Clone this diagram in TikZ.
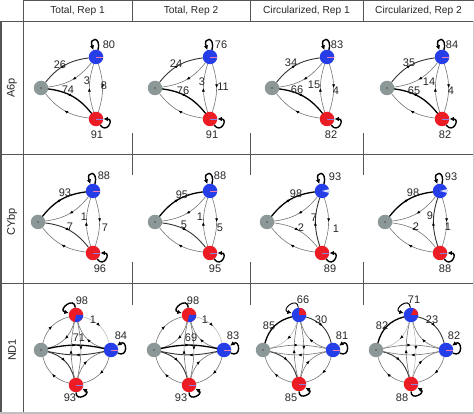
\documentclass[tikz,border=0pt]{standalone}
\usepackage{fontspec}
\setmainfont{Liberation Sans}
\usetikzlibrary{arrows.meta,decorations.markings}

\definecolor{nodegray}{RGB}{140,152,152}
\definecolor{nodeblue}{RGB}{38,62,232}
\definecolor{nodered}{RGB}{236,28,36}
\definecolor{framegray}{RGB}{85,85,85}
\definecolor{tickpink}{RGB}{240,120,180}
\definecolor{tickviolet}{RGB}{140,130,230}

\begin{document}
\begin{tikzpicture}[x=1pt,y=1pt]
\tikzset{
  cellline/.style={draw=framegray,line width=0.8pt},
  headtext/.style={font=\fontsize{10.2}{12}\selectfont,text=black!85,inner sep=0pt},
  rowtext/.style={headtext,font=\fontsize{11}{12}\selectfont,rotate=90},
  graynode/.style={circle,fill=nodegray,minimum size=14.5pt,inner sep=0pt},
  bluenode/.style={circle,fill=nodeblue,minimum size=14.5pt,inner sep=0pt},
  rednode/.style={circle,fill=nodered,minimum size=14.5pt,inner sep=0pt},
  edgebase/.style={line cap=round,postaction={decorate},
    decoration={markings,mark=at position 0.5 with {\arrow{Latex[length=3.6pt,width=3pt,black]}}}},
  wfaint/.style={edgebase,draw=black!30,line width=0.5pt},
  wlight/.style={edgebase,draw=black!55,line width=0.6pt},
  wmed/.style={edgebase,draw=black!80,line width=0.9pt},
  wheavy/.style={edgebase,draw=black,line width=1.3pt},
  selfloop/.style={draw=black,line width=1.4pt,-{Latex[length=4.5pt,width=4.5pt]},min distance=12pt},
  toploop/.style={selfloop,out=75,in=110,min distance=14pt},
  lowloop/.style={selfloop,out=-55,in=0,min distance=11pt},
  elabel/.style={font=\fontsize{11}{12}\selectfont,text=black!85,inner sep=0pt},
  pinktick/.style={draw=tickpink,line width=0.8pt},
  violettick/.style={draw=tickviolet,line width=0.8pt}
}
\useasboundingbox (0,0) rectangle (474,414);

% table frame
\draw[cellline] (23,413.5) -- (474,413.5);
\draw[cellline] (0,393) -- (474,393);
\draw[cellline] (0,260) -- (474,260);
\draw[cellline] (0,131) -- (474,131);
\draw[cellline] (23,0) -- (23,414);
\draw[draw=framegray,line width=2pt] (1,0) -- (1,393);
\draw[draw=black!25,line width=1.5pt] (0,1) -- (474,1);
\draw[draw=black!20,line width=1pt] (473,0) -- (473,393);
\foreach \xx in {132,250,363} {
  \draw[cellline] (\xx,393) -- (\xx,414);
  \draw[cellline] (\xx,260) -- (\xx,281);
  \draw[cellline] (\xx,239) -- (\xx,260);
  \draw[cellline] (\xx,131) -- (\xx,152);
  \draw[cellline] (\xx,109) -- (\xx,131);
}

\node[headtext] (hd1) at (77.5,403) {Total, Rep 1};
\node[headtext] (hd2) at (191,403) {Total, Rep 2};
\node[headtext] (hd3) at (306.5,403) {Circularized, Rep 1};
\node[headtext] (hd4) at (418.5,403) {Circularized, Rep 2};
\node[rowtext] (rl1) at (12,326) {A6p};
\node[rowtext] (rl2) at (12,192) {CYbp};
\node[rowtext] (rl3) at (12,64) {ND1};

% A6p, Total, Rep 1
\begin{scope}[shift={(41,326)}]
\node[graynode] (g11) at (0,0) {};
\node[bluenode] (b11) at (55,31) {};
\node[rednode] (r11) at (55,-31) {};
\draw[wmed] (g11) to[bend left=22] (b11);
\draw[wlight] (b11) to[bend left=22] (g11);
\draw[wheavy] (g11) to[bend left=22] (r11);
\draw[wlight] (r11) to[bend left=22] (g11);
\draw[wlight] (b11) to[bend left=18] (r11);
\draw[wlight] (r11) to[bend left=18] (b11);
\draw[toploop] (b11) to (b11);
\draw[lowloop] (r11) to (r11);
\fill[black!70] (g11.center) circle[radius=0.9];
\draw[pinktick] (b11.center) -- (b11.east);
\draw[violettick] (r11.center) -- (r11.east);
\node[elabel] (l11a) at (68,43) {80};
\node[elabel] (l11b) at (19,23) {26};
\node[elabel] (l11c) at (46,7) {3};
\node[elabel] (l11d) at (63,2) {8};
\node[elabel] (l11e) at (27,-2) {74};
\node[elabel] (l11f) at (56,-47) {91};
\end{scope}

% A6p, Total, Rep 2
\begin{scope}[shift={(155,326)}]
\node[graynode] (g12) at (0,0) {};
\node[bluenode] (b12) at (55,31) {};
\node[rednode] (r12) at (55,-31) {};
\draw[wmed] (g12) to[bend left=22] (b12);
\draw[wlight] (b12) to[bend left=22] (g12);
\draw[wheavy] (g12) to[bend left=22] (r12);
\draw[wlight] (r12) to[bend left=22] (g12);
\draw[wlight] (b12) to[bend left=18] (r12);
\draw[wlight] (r12) to[bend left=18] (b12);
\draw[toploop] (b12) to (b12);
\draw[lowloop] (r12) to (r12);
\fill[black!70] (g12.center) circle[radius=0.9];
\draw[pinktick] (b12.center) -- (b12.east);
\draw[violettick] (r12.center) -- (r12.east);
\node[elabel] (l12a) at (66,43) {76};
\node[elabel] (l12b) at (21,24) {24};
\node[elabel] (l12c) at (47,6) {3};
\node[elabel] (l12d) at (68,1) {11};
\node[elabel] (l12e) at (28,-3) {76};
\node[elabel] (l12f) at (57,-47) {91};
\end{scope}

% A6p, Circularized, Rep 1
\begin{scope}[shift={(272,326)}]
\node[graynode] (g13) at (0,0) {};
\node[bluenode] (b13) at (55,31) {};
\node[rednode] (r13) at (55,-31) {};
\draw[wmed] (g13) to[bend left=22] (b13);
\draw[wlight] (b13) to[bend left=22] (g13);
\draw[wheavy] (g13) to[bend left=22] (r13);
\draw[wlight] (r13) to[bend left=22] (g13);
\draw[wlight] (b13) to[bend left=18] (r13);
\draw[wlight] (r13) to[bend left=18] (b13);
\draw[toploop] (b13) to (b13);
\draw[lowloop] (r13) to (r13);
\fill[black!70] (g13.center) circle[radius=0.9];
\draw[pinktick] (b13.center) -- (b13.east);
\draw[violettick] (r13.center) -- (r13.east);
\node[elabel] (l13a) at (65,43) {83};
\node[elabel] (l13b) at (19,25) {34};
\node[elabel] (l13c) at (42,3) {15};
\node[elabel] (l13d) at (64,-3) {4};
\node[elabel] (l13e) at (25,-2) {66};
\node[elabel] (l13f) at (59,-47) {82};
\end{scope}

% A6p, Circularized, Rep 2
\begin{scope}[shift={(387,326)}]
\node[graynode] (g14) at (0,0) {};
\node[bluenode] (b14) at (55,31) {};
\node[rednode] (r14) at (55,-31) {};
\draw[wmed] (g14) to[bend left=22] (b14);
\draw[wlight] (b14) to[bend left=22] (g14);
\draw[wheavy] (g14) to[bend left=22] (r14);
\draw[wlight] (r14) to[bend left=22] (g14);
\draw[wlight] (b14) to[bend left=18] (r14);
\draw[wlight] (r14) to[bend left=18] (b14);
\draw[toploop] (b14) to (b14);
\draw[lowloop] (r14) to (r14);
\fill[black!70] (g14.center) circle[radius=0.9];
\draw[pinktick] (b14.center) -- (b14.east);
\draw[violettick] (r14.center) -- (r14.east);
\node[elabel] (l14a) at (65,43) {84};
\node[elabel] (l14b) at (22,25) {35};
\node[elabel] (l14c) at (42,6) {14};
\node[elabel] (l14d) at (64,-3) {4};
\node[elabel] (l14e) at (27,-3) {65};
\node[elabel] (l14f) at (58,-47) {82};
\end{scope}

% CYbp, Total, Rep 1
\begin{scope}[shift={(38,192)}]
\node[graynode] (g21) at (0,0) {};
\node[bluenode] (b21) at (55,31) {};
\node[rednode] (r21) at (55,-31) {};
\draw[wheavy] (g21) to[bend left=22] (b21);
\draw[wlight] (b21) to[bend left=22] (g21);
\draw[wmed] (g21) to[bend left=22] (r21);
\draw[wlight] (r21) to[bend left=22] (g21);
\draw[wlight] (b21) to[bend left=18] (r21);
\draw[wlight] (r21) to[bend left=18] (b21);
\draw[toploop] (b21) to (b21);
\draw[lowloop] (r21) to (r21);
\fill[black!70] (g21.center) circle[radius=0.9];
\draw[pinktick] (b21.center) -- (b21.east);
\draw[violettick] (r21.center) -- (r21.east);
\node[elabel] (l21a) at (66,46) {88};
\node[elabel] (l21b) at (27,29) {93};
\node[elabel] (l21c) at (46,5) {1};
\node[elabel] (l21d) at (32,-5) {7};
\node[elabel] (l21e) at (67,-6) {7};
\node[elabel] (l21f) at (62,-47) {96};
\end{scope}

% CYbp, Total, Rep 2
\begin{scope}[shift={(155,192)}]
\node[graynode] (g22) at (0,0) {};
\node[bluenode] (b22) at (55,31) {};
\node[rednode] (r22) at (55,-31) {};
\draw[wheavy] (g22) to[bend left=22] (b22);
\draw[wlight] (b22) to[bend left=22] (g22);
\draw[wmed] (g22) to[bend left=22] (r22);
\draw[wlight] (r22) to[bend left=22] (g22);
\draw[wlight] (b22) to[bend left=18] (r22);
\draw[wlight] (r22) to[bend left=18] (b22);
\draw[toploop] (b22) to (b22);
\draw[lowloop] (r22) to (r22);
\fill[black!70] (g22.center) circle[radius=0.9];
\draw[pinktick] (b22.center) -- (b22.east);
\draw[violettick] (r22.center) -- (r22.east);
\node[elabel] (l22a) at (65,46) {88};
\node[elabel] (l22b) at (27,27) {95};
\node[elabel] (l22c) at (45,5) {1};
\node[elabel] (l22d) at (29,-3) {5};
\node[elabel] (l22e) at (65,-6) {5};
\node[elabel] (l22f) at (60,-47) {95};
\end{scope}

% CYbp, Circularized, Rep 1
\begin{scope}[shift={(267,192)}]
\node[graynode] (g23) at (0,0) {};
\node[bluenode] (b23) at (55,31) {};
\node[rednode] (r23) at (55,-31) {};
\draw[wheavy] (g23) to[bend left=22] (b23);
\draw[wlight] (b23) to[bend left=22] (g23);
\draw[wlight] (g23) to[bend left=22] (r23);
\draw[wlight] (r23) to[bend left=22] (g23);
\draw[wlight] (b23) to[bend left=18] (r23);
\draw[wmed] (r23) to[bend left=18] (b23);
\draw[toploop] (b23) to (b23);
\draw[lowloop] (r23) to (r23);
\fill[black!70] (g23.center) circle[radius=0.9];
\fill[white!85!nodeblue] (b23.center) -- ++(-15:7.25) arc[start angle=-15,end angle=15,radius=7.25] -- cycle;
\draw[violettick] (r23.center) -- (r23.east);
\node[elabel] (l23a) at (68,45) {93};
\node[elabel] (l23b) at (29,28) {98};
\node[elabel] (l23c) at (47,4) {7};
\node[elabel] (l23d) at (34,-6) {2};
\node[elabel] (l23e) at (69,-7) {1};
\node[elabel] (l23f) at (63,-47) {89};
\end{scope}

% CYbp, Circularized, Rep 2
\begin{scope}[shift={(385,192)}]
\node[graynode] (g24) at (0,0) {};
\node[bluenode] (b24) at (55,31) {};
\node[rednode] (r24) at (55,-31) {};
\draw[wheavy] (g24) to[bend left=22] (b24);
\draw[wlight] (b24) to[bend left=22] (g24);
\draw[wlight] (g24) to[bend left=22] (r24);
\draw[wlight] (r24) to[bend left=22] (g24);
\draw[wlight] (b24) to[bend left=18] (r24);
\draw[wmed] (r24) to[bend left=18] (b24);
\draw[toploop] (b24) to (b24);
\draw[lowloop] (r24) to (r24);
\fill[black!70] (g24.center) circle[radius=0.9];
\fill[white!85!nodeblue] (b24.center) -- ++(-15:7.25) arc[start angle=-15,end angle=15,radius=7.25] -- cycle;
\draw[violettick] (r24.center) -- (r24.east);
\node[elabel] (l24a) at (66,45) {93};
\node[elabel] (l24b) at (28,29) {98};
\node[elabel] (l24c) at (45,6) {9};
\node[elabel] (l24d) at (31,-5) {2};
\node[elabel] (l24e) at (63,-5) {1};
\node[elabel] (l24f) at (60,-47) {88};
\end{scope}

% ND1, Total, Rep 1
\begin{scope}[shift={(41,64)}]
\node[graynode] (g31) at (0,0) {};
\node[rednode] (t31) at (35,35) {};
\node[bluenode] (e31) at (70,0) {};
\node[rednode] (d31) at (35,-35) {};
\draw[wlight] (g31) to[bend left=30] (t31);
\draw[wlight] (t31) to[bend left=30] (g31);
\draw[wfaint] (t31) to[bend left=30] (e31);
\draw[wlight] (e31) to[bend left=30] (t31);
\draw[wlight] (e31) to[bend left=30] (d31);
\draw[wlight] (d31) to[bend left=30] (e31);
\draw[wmed] (g31) to[bend left=30] (d31);
\draw[wlight] (d31) to[bend left=30] (g31);
\draw[wheavy] (g31) to[bend left=12] (e31);
\draw[wmed] (e31) to[bend left=12] (g31);
\draw[wlight] (t31) to[bend left=12] (d31);
\draw[wlight] (d31) to[bend left=12] (t31);
\draw[selfloop] (t31) to[out=95,in=165] (t31);
\draw[selfloop] (e31) to[out=-25,in=35] (e31);
\draw[selfloop] (d31) to[out=-90,in=-30,min distance=10pt] (d31);
\fill[black!70] (g31.center) circle[radius=0.9];
\fill[nodeblue] (t31.center) -- ++(-100:7.25) arc[start angle=-100,end angle=0,radius=7.25] -- cycle;
\draw[pinktick] (e31.center) -- (e31.east);
\draw[violettick] (d31.center) -- (d31.east);
\node[elabel] (l31a) at (41,49) {98};
\node[elabel] (l31b) at (52,30) {1};
\node[elabel] (l31c) at (38,12) {71};
\node[elabel] (l31d) at (80,14) {84};
\node[elabel] (l31e) at (29,-48) {93};
\end{scope}

% ND1, Total, Rep 2
\begin{scope}[shift={(154,64)}]
\node[graynode] (g32) at (0,0) {};
\node[rednode] (t32) at (35,35) {};
\node[bluenode] (e32) at (70,0) {};
\node[rednode] (d32) at (35,-35) {};
\draw[wlight] (g32) to[bend left=30] (t32);
\draw[wlight] (t32) to[bend left=30] (g32);
\draw[wfaint] (t32) to[bend left=30] (e32);
\draw[wlight] (e32) to[bend left=30] (t32);
\draw[wlight] (e32) to[bend left=30] (d32);
\draw[wlight] (d32) to[bend left=30] (e32);
\draw[wmed] (g32) to[bend left=30] (d32);
\draw[wlight] (d32) to[bend left=30] (g32);
\draw[wheavy] (g32) to[bend left=12] (e32);
\draw[wmed] (e32) to[bend left=12] (g32);
\draw[wlight] (t32) to[bend left=12] (d32);
\draw[wlight] (d32) to[bend left=12] (t32);
\draw[selfloop] (t32) to[out=95,in=165] (t32);
\draw[selfloop] (e32) to[out=-25,in=35] (e32);
\draw[selfloop] (d32) to[out=-90,in=-30,min distance=10pt] (d32);
\fill[black!70] (g32.center) circle[radius=0.9];
\fill[nodeblue] (t32.center) -- ++(-100:7.25) arc[start angle=-100,end angle=0,radius=7.25] -- cycle;
\draw[pinktick] (e32.center) -- (e32.east);
\draw[violettick] (d32.center) -- (d32.east);
\node[elabel] (l32a) at (39,49) {98};
\node[elabel] (l32b) at (51,30) {1};
\node[elabel] (l32c) at (37,12) {69};
\node[elabel] (l32d) at (79,14) {83};
\node[elabel] (l32e) at (27,-48) {93};
\end{scope}

% ND1, Circularized, Rep 1
\begin{scope}[shift={(263,64)}]
\node[graynode] (g33) at (0,0) {};
\node[bluenode] (t33) at (36,35) {};
\node[bluenode] (e33) at (70,0) {};
\node[rednode] (d33) at (36,-34) {};
\draw[wheavy] (g33) to[bend left=30] (t33);
\draw[wfaint] (t33) to[bend left=30] (g33);
\draw[wmed] (t33) to[bend left=30] (e33);
\draw[wlight] (e33) to[bend left=30] (t33);
\draw[wlight] (e33) to[bend left=30] (d33);
\draw[wlight] (d33) to[bend left=30] (e33);
\draw[wmed] (g33) to[bend left=30] (d33);
\draw[wlight] (d33) to[bend left=30] (g33);
\draw[wlight] (g33) to[bend left=12] (e33);
\draw[wlight] (e33) to[bend left=12] (g33);
\draw[wlight] (t33) to[bend left=12] (d33);
\draw[wlight] (d33) to[bend left=12] (t33);
\draw[selfloop,line width=0.9pt] (t33) to[out=95,in=165] (t33);
\draw[selfloop] (e33) to[out=-25,in=35] (e33);
\draw[selfloop] (d33) to[out=-90,in=-30,min distance=10pt] (d33);
\fill[black!70] (g33.center) circle[radius=0.9];
\fill[nodered] (t33.center) -- ++(0:7.25) arc[start angle=0,end angle=85,radius=7.25] -- cycle;
\draw[pinktick] (e33.center) -- (e33.east);
\draw[violettick] (d33.center) -- (d33.east);
\node[elabel] (l33a) at (40,50) {66};
\node[elabel] (l33b) at (6,24) {85};
\node[elabel] (l33c) at (58,30) {30};
\node[elabel] (l33d) at (79,14) {81};
\node[elabel] (l33e) at (28,-48) {85};
\end{scope}

% ND1, Circularized, Rep 2
\begin{scope}[shift={(376,64)}]
\node[graynode] (g34) at (0,0) {};
\node[bluenode] (t34) at (35,35) {};
\node[bluenode] (e34) at (70,0) {};
\node[rednode] (d34) at (35,-34) {};
\draw[wheavy] (g34) to[bend left=30] (t34);
\draw[wfaint] (t34) to[bend left=30] (g34);
\draw[wmed] (t34) to[bend left=30] (e34);
\draw[wlight] (e34) to[bend left=30] (t34);
\draw[wlight] (e34) to[bend left=30] (d34);
\draw[wlight] (d34) to[bend left=30] (e34);
\draw[wmed] (g34) to[bend left=30] (d34);
\draw[wlight] (d34) to[bend left=30] (g34);
\draw[wlight] (g34) to[bend left=12] (e34);
\draw[wlight] (e34) to[bend left=12] (g34);
\draw[wfaint] (t34) to[bend left=12] (d34);
\draw[wlight] (d34) to[bend left=12] (t34);
\draw[selfloop,line width=1pt] (t34) to[out=95,in=165] (t34);
\draw[selfloop] (e34) to[out=-25,in=35] (e34);
\draw[selfloop] (d34) to[out=-90,in=-30,min distance=10pt] (d34);
\fill[black!70] (g34.center) circle[radius=0.9];
\fill[nodered] (t34.center) -- ++(0:7.25) arc[start angle=0,end angle=65,radius=7.25] -- cycle;
\draw[pinktick] (e34.center) -- (e34.east);
\draw[violettick] (d34.center) -- (d34.east);
\node[elabel] (l34a) at (38,50) {71};
\node[elabel] (l34b) at (6,24) {82};
\node[elabel] (l34c) at (56,30) {23};
\node[elabel] (l34d) at (78,14) {82};
\node[elabel] (l34e) at (26,-48) {88};
\end{scope}
\end{tikzpicture}
\end{document}
